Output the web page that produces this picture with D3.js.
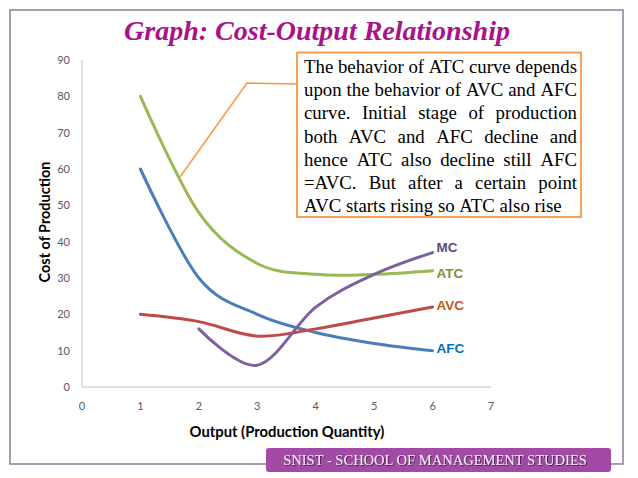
<!DOCTYPE html>
<html><head><meta charset="utf-8">
<script src="https://cdn.jsdelivr.net/npm/d3@7"></script>
<style>html,body{margin:0;padding:0;background:#fff;}svg{display:block;}</style>
</head><body>
<svg id="c" width="638" height="478"></svg>
<script>
// ---------- data ----------
const outputs = [1, 2, 3, 4, 5, 6];
const afc = [60, 30, 20, 15, 12, 10];
const avc = [20, 18, 14, 16, 19, 22];
const atc = [80, 48, 34, 31, 31, 32];
const mcOutputs = [2, 3, 4, 5, 6];
const mc = [16, 6, 22, 31, 37];
const xTicks = [0, 1, 2, 3, 4, 5, 6, 7];
const yTicks = [0, 10, 20, 30, 40, 50, 60, 70, 80, 90];
const seriesNames = ["MC", "ATC", "AVC", "AFC"];
const titleText = "Graph: Cost-Output Relationship";
const xTitle = "Output (Production Quantity)";
const yTitle = "Cost of Production";
const footerText = "SNIST - SCHOOL OF MANAGEMENT STUDIES";
const noteLines = [
  "The behavior of ATC curve depends",
  "upon the behavior of AVC and AFC",
  "curve. Initial stage of production",
  "both AVC and AFC decline and",
  "hence ATC also decline still AFC",
  "=AVC. But after a certain point",
  "AVC starts rising so ATC also rise"
];

// ---------- layout ----------
const svg = d3.select("#c");
const x = d3.scaleLinear().domain([0, 7]).range([82, 491]);
const y = d3.scaleLinear().domain([0, 90]).range([387, 60]);

function fitText(sel, targetW) {
  const fs = parseFloat(sel.attr("font-size"));
  const w = sel.node().getComputedTextLength();
  sel.attr("font-size", fs * targetW / w);
}

// frame
const frameColor = "#8d7d9a";
svg.append("path")
  .attr("d", "M266,464 L10,464 L10,10 L623,10 L623,464 L611,464")
  .attr("fill", "none").attr("stroke", frameColor).attr("stroke-width", 1.5);

// title
const t = svg.append("text").attr("x", 317).attr("y", 40)
  .attr("text-anchor", "middle")
  .attr("font-family", "Liberation Serif, Times New Roman, serif")
  .attr("font-weight", "bold").attr("font-style", "italic")
  .attr("font-size", 26).attr("fill", "#a8138a").text(titleText);
fitText(t, 386);

// axes
const axisColor = "#bfbfbf";
svg.append("line").attr("x1", x(0)).attr("x2", x(7)).attr("y1", y(0)).attr("y2", y(0))
  .attr("stroke", axisColor).attr("stroke-width", 1);
svg.append("line").attr("x1", x(0)).attr("x2", x(0)).attr("y1", y(0)).attr("y2", y(90))
  .attr("stroke", axisColor).attr("stroke-width", 1);

const tickFont = "Lato, Carlito, 'Open Sans', sans-serif";
svg.append("g").selectAll("text").data(yTicks).join("text")
  .attr("x", 70).attr("y", d => y(d)).attr("dy", "0.35em")
  .attr("text-anchor", "end").attr("font-family", tickFont)
  .attr("font-size", 11).attr("fill", "#595959").text(d => d);
svg.append("g").selectAll("text").data(xTicks).join("text")
  .attr("x", d => x(d)).attr("y", 406).attr("dy", "0.35em")
  .attr("text-anchor", "middle").attr("font-family", tickFont)
  .attr("font-size", 11).attr("fill", "#595959").text(d => d);

const xt = svg.append("text").attr("x", 287).attr("y", 437).attr("text-anchor", "middle")
  .attr("font-family", tickFont).attr("font-weight", "bold").attr("font-size", 13)
  .attr("fill", "#000").text(xTitle);
fitText(xt, 195);
const yt = svg.append("text").attr("transform", "translate(50,222) rotate(-90)")
  .attr("text-anchor", "middle")
  .attr("font-family", tickFont).attr("font-weight", "bold").attr("font-size", 13)
  .attr("fill", "#000").text(yTitle);
fitText(yt, 121);

// curves
const line = d3.line().x(d => x(d[0])).y(d => y(d[1])).curve(d3.curveCatmullRom.alpha(0));
const zip = (xs, ys) => xs.map((v, i) => [v, ys[i]]);
const lineColors = {MC: "#7d60a0", ATC: "#98b954", AVC: "#be4b48", AFC: "#4a7ebb"};
const labelColors = {MC: "#5f4a7b", ATC: "#77933c", AVC: "#c0581e", AFC: "#0070c0"};
const seriesData = {
  AFC: zip(outputs, afc), AVC: zip(outputs, avc), ATC: zip(outputs, atc), MC: zip(mcOutputs, mc)
};
["AFC", "AVC", "ATC", "MC"].forEach(k => {
  svg.append("path").attr("d", line(seriesData[k])).attr("fill", "none")
    .attr("stroke", lineColors[k]).attr("stroke-width", 3).attr("stroke-linecap", "round");
});

// labels
const labelDy = {MC: -5, ATC: 3, AVC: -2, AFC: -2};
seriesNames.forEach(k => {
  const pts = seriesData[k];
  const last = pts[pts.length - 1];
  svg.append("text").attr("x", x(last[0]) + 4).attr("y", y(last[1]) + labelDy[k])
    .attr("dy", "0.35em")
    .attr("font-family", "Liberation Sans, Arial, sans-serif").attr("font-weight", "bold")
    .attr("font-size", 13.5).attr("fill", labelColors[k]).text(k);
});

// callout connector
const calloutColor = "#f79646";
svg.append("path").attr("d", "M180,177 L247,83 L297,84")
  .attr("fill", "none").attr("stroke", calloutColor).attr("stroke-width", 1.5);

// note box
svg.append("rect").attr("x", 297).attr("y", 52.5).attr("width", 284).attr("height", 164.5)
  .attr("fill", "#fff").attr("stroke", calloutColor).attr("stroke-width", 1.8);

const noteFont = "Liberation Serif, Times New Roman, serif";
const left = 304, right = 577, base0 = 73, lh = 23.2;
// fit font so that the first line sits at natural spacing across the box
const probe = svg.append("text").attr("font-family", noteFont).attr("font-size", 19)
  .text(noteLines[0]);
const noteFs = 19 * (right - left - 1) / probe.node().getComputedTextLength();
probe.remove();
noteLines.forEach((ln, i) => {
  const words = ln.split(" ");
  const g = svg.append("g");
  const ws = words.map(w => {
    const tx = g.append("text").attr("font-family", noteFont).attr("font-size", noteFs)
      .attr("fill", "#000").attr("y", base0 + i * lh).text(w);
    return {tx, w: tx.node().getComputedTextLength()};
  });
  const total = d3.sum(ws, d => d.w);
  const last = i === noteLines.length - 1;
  const gap = last ? noteFs * 0.25 : (right - left - total) / (words.length - 1);
  let cx = left;
  ws.forEach(d => { d.tx.attr("x", cx); cx += d.w + gap; });
});

// footer banner
const defs = svg.append("defs");
const f = defs.append("filter").attr("id", "sh").attr("x", "-10%").attr("y", "-50%")
  .attr("width", "120%").attr("height", "200%");
f.append("feDropShadow").attr("dx", 1).attr("dy", 1).attr("stdDeviation", 0.6)
  .attr("flood-color", "#3a1a40").attr("flood-opacity", 0.9);
svg.append("rect").attr("x", 266).attr("y", 448).attr("width", 345).attr("height", 24)
  .attr("rx", 3).attr("fill", "#a34aa6");
const ft = svg.append("text").attr("x", 435).attr("y", 465).attr("text-anchor", "middle")
  .attr("font-family", noteFont).attr("font-size", 14).attr("fill", "#f4eef6")
  .attr("filter", "url(#sh)").text(footerText);
fitText(ft, 304);
</script>
</body></html>
